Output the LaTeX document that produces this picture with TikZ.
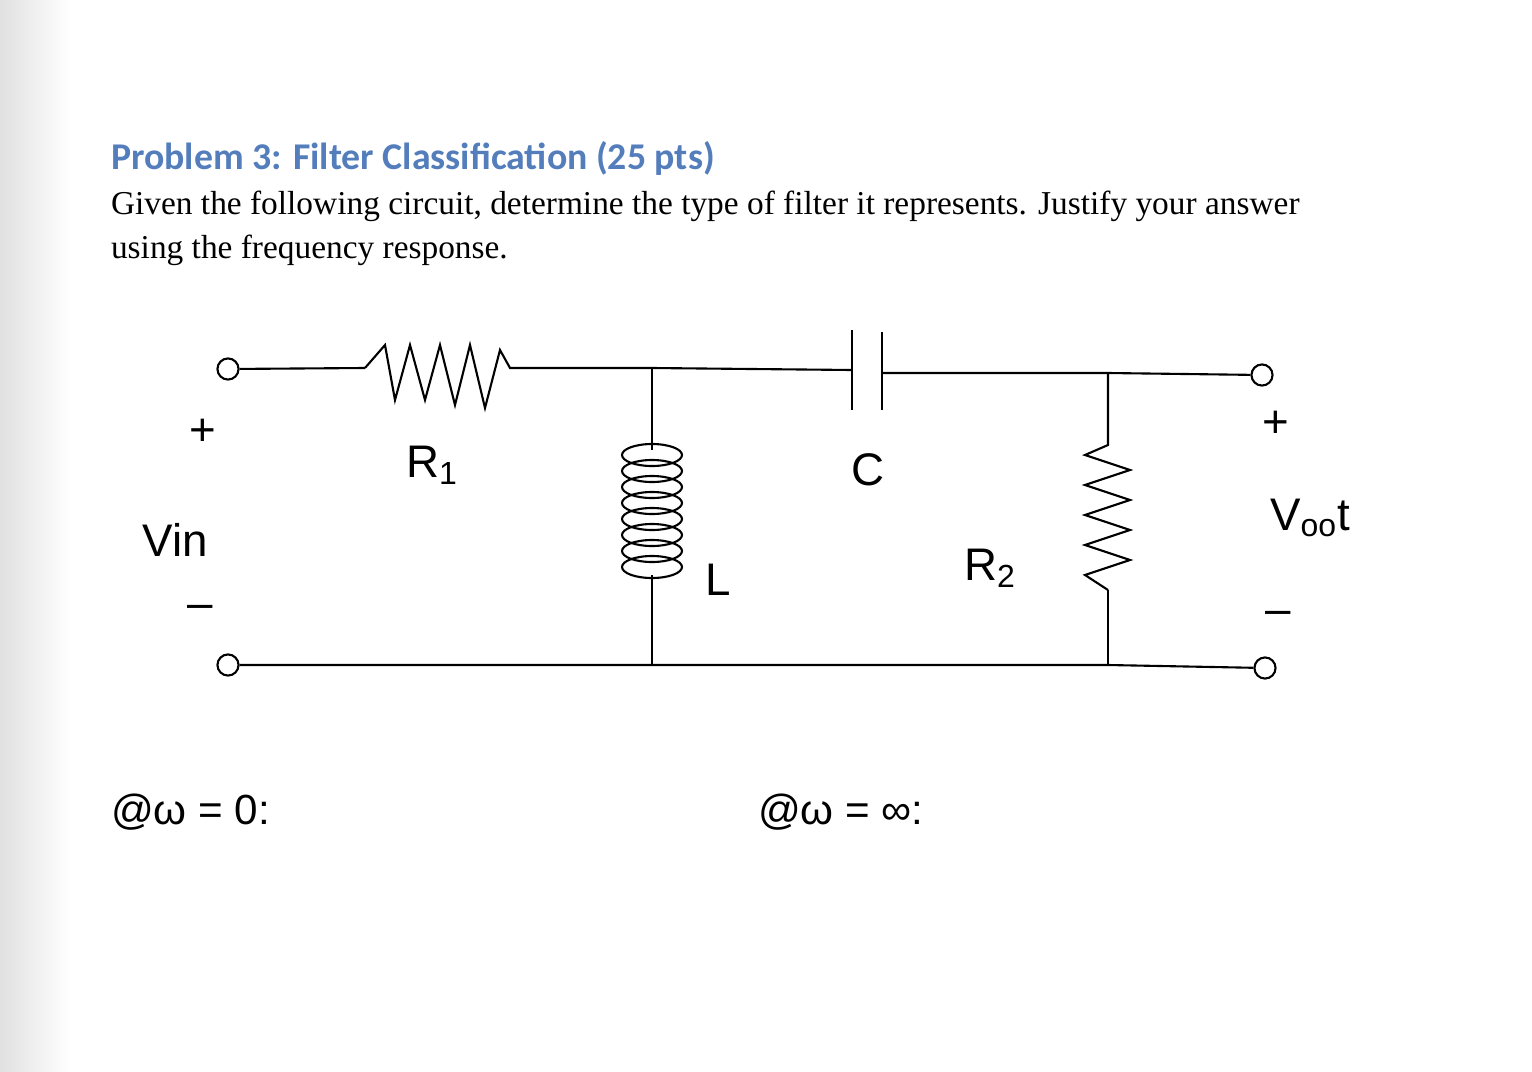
\documentclass[tikz,border=0pt]{standalone}
\usepackage{fontspec}
\setmainfont{Liberation Serif}
\newfontfamily\titlefont{Carlito}
\newfontfamily\hfont{Liberation Sans}
\begin{document}
\begin{tikzpicture}[x=0.02cm,y=-0.02cm,line width=1.2pt,
  term/.style={circle,draw,inner sep=0pt,minimum size=12pt,fill=white},
  hand/.style={font=\hfont\fontsize{26}{26}\selectfont},
  txt/.style={anchor=west,inner sep=0pt}]
\useasboundingbox (0,0) rectangle (1532,1072);
\shade[left color=black!12,right color=white] (0,0) rectangle (70,1072);
\node[txt] at (110,158) {\titlefont\bfseries\fontsize{21.5}{24}\selectfont\color[RGB]{84,125,188}Problem 3: Filter Classification (25 pts)};
\node[txt] at (110,206) {\fontsize{19}{22}\selectfont Given the following circuit, determine the type of filter it represents. Justify your answer};
\node[txt] at (110,250) {\fontsize{19}{22}\selectfont using the frequency response.};
% nodes
\node[term] (a) at (228,369) {};
\node[term] (b) at (228,665) {};
\node[term] (c) at (1262,375) {};
\node[term] (d) at (1265,668) {};
\coordinate (r1a) at (365,368);
\coordinate (r1b) at (525,368);
\coordinate (jL) at (652,368);
\coordinate (c1) at (852,370);
\coordinate (c2) at (882,373);
\coordinate (jR) at (1108,373);
\coordinate (Lt) at (652,450);
\coordinate (Lb) at (652,575);
\coordinate (gL) at (652,665);
\coordinate (Rt) at (1108,445);
\coordinate (Rb) at (1108,590);
\coordinate (gR) at (1108,665);
\draw (a) -- (r1a);
\draw (r1a) -- (385,345) -- (395,400) -- (410,345) -- (425,400) -- (440,345) -- (455,405) -- (470,345) -- (485,408) -- (500,350) -- (510,368) -- (r1b);
\draw (r1b) -- (jL) -- (c1);
\draw (852,330) -- (852,410);
\draw (882,332) -- (882,410);
\draw (c2) -- (jR) -- (c);
\draw (jL) -- (Lt);
\foreach \i in {0,...,7} \draw (652,455+\i*16) ellipse (30 and 11);
\draw (Lb) -- (gL);
\draw (jR) -- (Rt) -- (1085,455) -- (1130,470) -- (1085,485) -- (1130,500) -- (1085,515) -- (1130,530) -- (1085,545) -- (1130,560) -- (1085,575) -- (Rb);
\draw (Rb) -- (gR);
\draw (b) -- (gL) -- (gR) -- (d);
\node[hand] at (203,432) {+};
\node[hand] at (175,540) {Vin};
\node[hand] at (200,612) {–};
\node[hand] at (432,465) {R\textsubscript{1}};
\node[hand] at (868,470) {C};
\node[hand] at (718,580) {L};
\node[hand] at (990,568) {R\textsubscript{2}};
\node[hand] at (1276,424) {+};
\node[hand] at (1310,518) {V\textsubscript{oo}t};
\node[hand] at (1278,618) {–};
\node[txt] at (110,812) {\hfont\fontsize{24}{28}\selectfont @ω = 0:};
\node[txt] at (757,812) {\hfont\fontsize{24}{28}\selectfont @ω = ∞:};
\end{tikzpicture}
\end{document}
